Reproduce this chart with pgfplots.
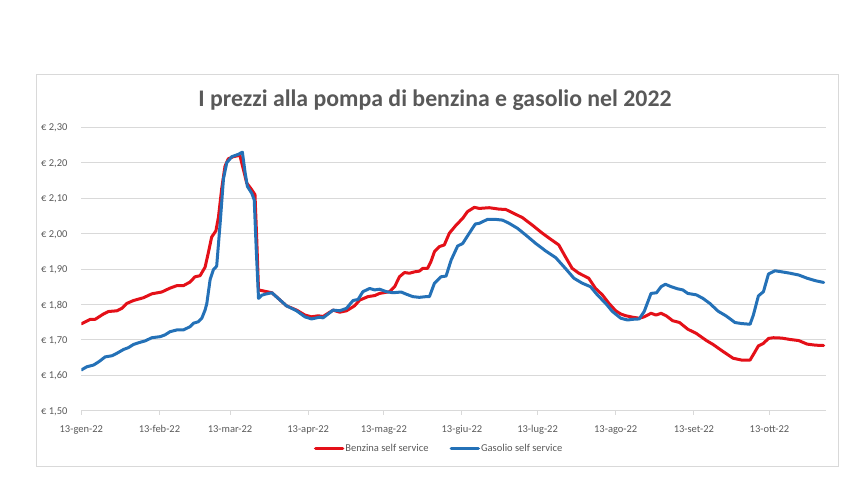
\documentclass[border=0pt]{standalone}
\usepackage{fontspec}
\setmainfont{Carlito}
\usepackage{pgfplots}
\pgfplotsset{compat=1.18}
\definecolor{benz}{RGB}{228,16,24}
\definecolor{gaso}{RGB}{36,113,183}
\definecolor{gridg}{RGB}{217,217,217}
\definecolor{txtg}{RGB}{89,89,89}
\begin{document}
\begin{tikzpicture}
\path (0bp,0bp) rectangle (863bp,497bp);
\draw[gridg, line width=0.9bp] (36bp,31bp) rectangle (838bp,422.7bp);
\node[anchor=base, text=txtg, font=\fontsize{23.8bp}{28bp}\selectfont\bfseries] at (435bp,390.3bp) {I prezzi alla pompa di benzina e gasolio nel 2022};
\begin{axis}[
  at={(81.3bp,86.3bp)}, anchor=south west,
  scale only axis, width=744.4bp, height=283.4bp,
  xmin=0, xmax=295.3, ymin=1.5, ymax=2.3,
  axis x line*=bottom, axis y line*=left,
  y axis line style={draw=none},
  x axis line style={gridg, line width=0.9bp},
  xtick={0,31,59,90,120,151,181,212,243,273},
  xticklabels={13-gen-22,13-feb-22,13-mar-22,13-apr-22,13-mag-22,13-giu-22,13-lug-22,13-ago-22,13-set-22,13-ott-22},
  ytick={1.5,1.6,1.7,1.8,1.9,2.0,2.1,2.2,2.3},
  yticklabels={{€ 1,50},{€ 1,60},{€ 1,70},{€ 1,80},{€ 1,90},{€ 2,00},{€ 2,10},{€ 2,20},{€ 2,30}},
  tick align=outside, major tick length=4bp,
  xtick style={gridg, line width=0.9bp},
  ytick style={draw=none},
  ymajorgrids, grid style={gridg, line width=0.9bp},
  xticklabel style={anchor=base, yshift=-17.6bp, text=txtg, font=\fontsize{10.5bp}{12bp}\selectfont},
  yticklabel style={anchor=base east, inner sep=0pt, xshift=-9.6bp, yshift=-3.7bp, text=txtg, font=\fontsize{10.5bp}{12bp}\selectfont},
  legend columns=2,
  legend style={at={(0.48,-0.133)}, anchor=center, draw=none, fill=none, text=txtg,
    font=\fontsize{10.5bp}{12bp}\selectfont, nodes={inner sep=1bp},
    /tikz/every even column/.append style={column sep=20bp}},
  legend image code/.code={\draw[#1, line width=3.5bp] (0bp,0bp) -- (27bp,0bp);},
  every axis plot/.append style={line width=3bp, line join=round, line cap=round},
]
\addplot[benz] coordinates {
(0,1.745)(3.6,1.758)(5.5,1.758)(8.8,1.773)(10.8,1.780)(14.1,1.782)(16.1,1.789)(18.1,1.803)(20.7,1.811)(24.7,1.819)
(28,1.830)(31.9,1.835)(35.2,1.846)(37.9,1.853)(40.5,1.853)(43.1,1.863)(45.1,1.878)(47.1,1.881)(49.1,1.905)(50.4,1.946)
(51.7,1.990)(53.4,2.008)(54.4,2.046)(55.7,2.127)(57,2.190)(58.3,2.211)(60.3,2.217)(62.9,2.221)(64.3,2.181)(65.6,2.143)
(67.6,2.124)(68.9,2.110)(69.6,1.984)(70.3,1.841)(71.6,1.839)(73.6,1.836)(75.6,1.833)(78.9,1.812)(81.4,1.796)(85.4,1.784)
(88.7,1.770)(91.3,1.765)(94,1.768)(95.9,1.766)(99.9,1.784)(102.5,1.778)(105.2,1.782)(108.4,1.796)(110.4,1.812)(113.7,1.822)
(116.4,1.825)(118.3,1.831)(122.3,1.836)(124.3,1.850)(126.2,1.878)(128.2,1.890)(130.2,1.888)(132.2,1.892)(134.1,1.894)(135.5,1.902)
(137.4,1.902)(138.7,1.921)(140.1,1.949)(142,1.963)(144,1.968)(146,2.001)(148.7,2.024)(151.3,2.043)(153.2,2.062)(155.9,2.074)
(157.9,2.071)(161.8,2.073)(165.8,2.069)(168.4,2.068)(171,2.059)(175,2.045)(178.9,2.024)(182.9,2.001)(186,1.985)(189.4,1.968)
(192,1.935)(194.7,1.902)(197.4,1.888)(201.3,1.874)(204,1.845)(206.7,1.827)(209.3,1.803)(212,1.782)(214,1.773)(216,1.768)
(218.7,1.764)(221.3,1.761)(223.3,1.765)(226,1.775)(228,1.770)(230,1.775)(232,1.768)(234.6,1.754)(237.3,1.749)(240.6,1.730)
(244,1.718)(248,1.698)(250.6,1.687)(254.6,1.667)(258.6,1.648)(261.9,1.643)(265.3,1.643)(267.3,1.667)(268.6,1.683)(270.6,1.690)
(272.6,1.704)(274.6,1.706)(277.9,1.705)(281.2,1.701)(284.6,1.698)(287.9,1.688)(291.2,1.685)(294.5,1.684)
};
\addlegendentry{Benzina self service}
\addplot[gaso] coordinates {
(0,1.615)(2.2,1.624)(4.9,1.629)(6.9,1.638)(9.5,1.652)(12.1,1.655)(14.1,1.662)(16.8,1.673)(18.7,1.678)(20.7,1.687)
(23.3,1.693)(25.3,1.697)(28,1.706)(31.3,1.709)(33.2,1.714)(35.2,1.723)(37.9,1.728)(40.5,1.728)(43.1,1.737)(44.5,1.747)
(46.4,1.751)(47.8,1.761)(49.1,1.784)(49.8,1.803)(51.1,1.870)(52.4,1.898)(53.7,1.908)(55.1,2.031)(56.4,2.155)(57.7,2.200)
(59.7,2.217)(62.4,2.224)(63.9,2.230)(65,2.171)(65.9,2.133)(67.6,2.114)(68.6,2.095)(69.4,1.955)(70.3,1.817)(71.6,1.826)
(73,1.829)(75.6,1.833)(78.9,1.812)(81.4,1.796)(85.4,1.782)(88.7,1.765)(91.3,1.759)(94.6,1.764)(95.9,1.762)(99.9,1.784)
(102.5,1.782)(105.2,1.789)(107.8,1.811)(109.8,1.814)(111.7,1.836)(114.4,1.845)(116.4,1.841)(118.3,1.843)(121,1.836)(123.6,1.833)
(126.9,1.835)(128.9,1.829)(131.5,1.822)(134.1,1.820)(136.8,1.822)(138.1,1.822)(140.1,1.860)(142.7,1.878)(144.7,1.880)(146.7,1.925)
(149.3,1.965)(151.3,1.972)(153.9,2.001)(156.3,2.027)(157.9,2.029)(161.1,2.040)(164.4,2.040)(167.1,2.038)(169.7,2.029)(173,2.015)
(176.3,1.996)(180.3,1.972)(184.2,1.951)(188.2,1.932)(192,1.902)(195.4,1.874)(198.7,1.860)(202,1.850)(204.7,1.827)(208,1.803)
(210.7,1.780)(214,1.761)(216.7,1.756)(218.7,1.758)(221.3,1.759)(223.3,1.780)(226,1.831)(228.2,1.833)(230,1.850)(231.7,1.857)
(234,1.850)(236.6,1.844)(238.6,1.841)(240.6,1.831)(244,1.827)(246.6,1.817)(249.3,1.803)(252.6,1.781)(255.9,1.767)(259.3,1.749)
(261.9,1.746)(265.3,1.744)(266.6,1.770)(268.6,1.824)(270.6,1.836)(272.6,1.886)(275.2,1.895)(277.9,1.892)(281.2,1.888)(284.6,1.883)
(287.9,1.874)(291.2,1.867)(294.5,1.862)
};
\addlegendentry{Gasolio self service}
\end{axis}
\end{tikzpicture}
\end{document}
